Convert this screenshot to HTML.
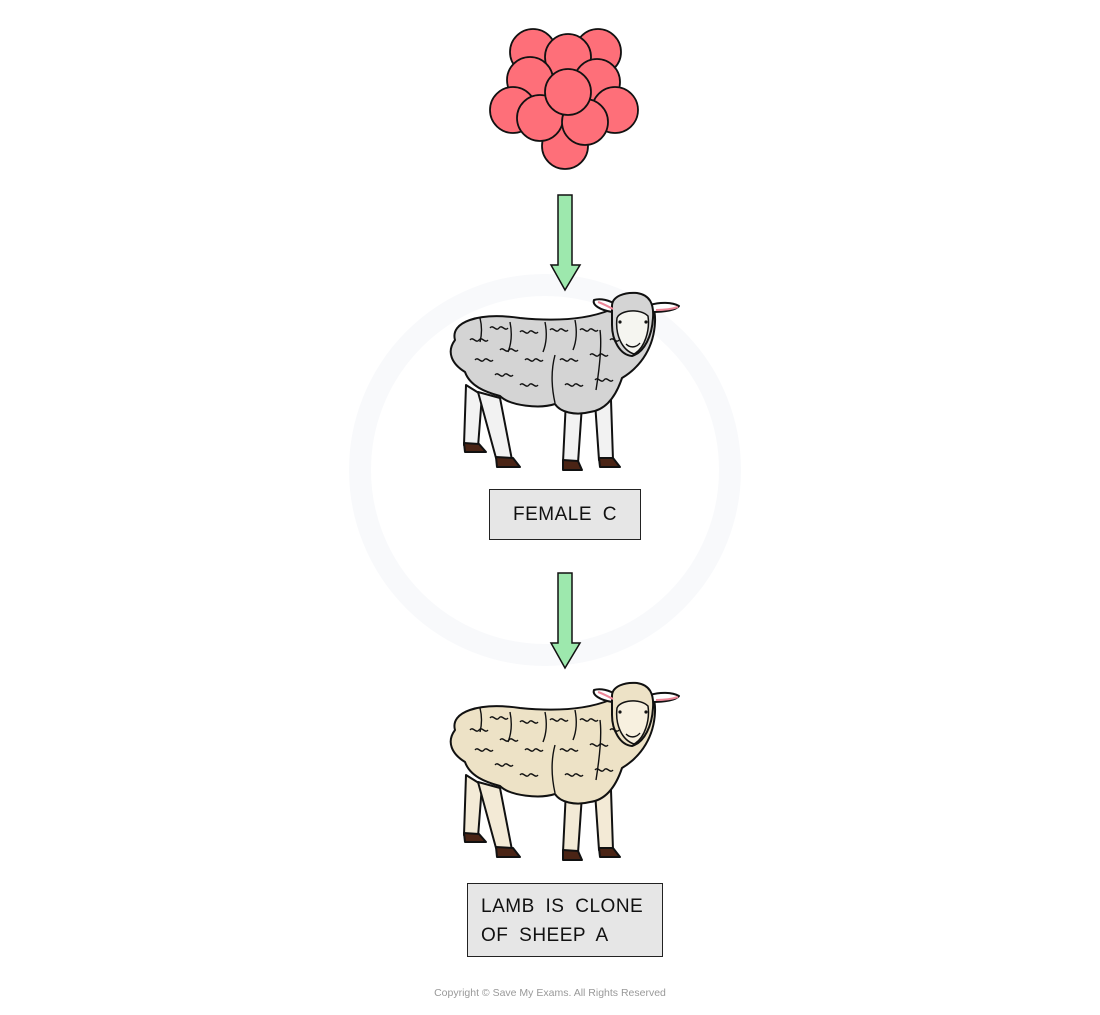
<!DOCTYPE html>
<html><head><meta charset="utf-8">
<style>
html,body{margin:0;padding:0;background:#fff;}
body{width:1100px;height:1015px;position:relative;overflow:hidden;font-family:"Liberation Sans",sans-serif;}
.box{position:absolute;background:#e6e6e6;border:1.5px solid #222;box-sizing:border-box;color:#111;font-size:19px;letter-spacing:0.5px;word-spacing:5px;}
.copy{position:absolute;left:0;width:1100px;top:987px;text-align:center;font-size:10.5px;color:#999;}
</style></head><body>
<svg width="1100" height="1015" style="position:absolute;left:0;top:0">
<circle cx="545" cy="470" r="185" fill="none" stroke="#f8f9fb" stroke-width="22"/>
<g fill="#fe6f79" stroke="#111" stroke-width="1.8">
<circle cx="533" cy="52" r="23"/><circle cx="598" cy="52" r="23"/><circle cx="568" cy="57" r="23"/>
<circle cx="530" cy="80" r="23"/><circle cx="597" cy="82" r="23"/>
<circle cx="513" cy="110" r="23"/><circle cx="615" cy="110" r="23"/>
<circle cx="565" cy="146" r="23"/>
<circle cx="540" cy="118" r="23"/><circle cx="585" cy="122" r="23"/>
<circle cx="568" cy="92" r="23"/>
</g>
<g fill="#9de8ad" stroke="#111" stroke-width="1.5">
<path d="M558,195 L572,195 L572,265 L580,265 L565,290 L551,265 L558,265 Z"/>
<path d="M558,573 L572,573 L572,643 L580,643 L565,668 L551,643 L558,643 Z"/>
</g>

<!-- SHEEP 1 -->
<g>
  <g stroke="#111" stroke-width="2" stroke-linejoin="round">
  <path d="M466,385 L464,445 L478,447 L482,395 Z" fill="#f2f2f2"/>
  <path d="M478,392 L496,458 L512,460 L500,398 Z" fill="#f2f2f2"/>
  <path d="M566,400 L563,462 L578,463 L582,405 Z" fill="#f2f2f2"/>
  <path d="M595,402 L599,460 L613,460 L611,400 Z" fill="#f2f2f2"/>
  <path d="M464,443 L465,452 L486,452 L479,444 Z" fill="#4a2415"/>
  <path d="M496,457 L497,467 L520,467 L513,458 Z" fill="#4a2415"/>
  <path d="M563,460 L563,470 L582,470 L578,461 Z" fill="#4a2415"/>
  <path d="M599,458 L600,467 L620,467 L613,458 Z" fill="#4a2415"/>
  <path fill="#d4d4d4" d="M455,340 C450,322 478,312 520,318 C560,322 590,318 610,310 L628,300 C645,294 656,302 655,322 C654,346 642,366 622,378 C616,396 606,410 590,412 C575,416 560,412 555,404 C540,409 510,406 500,396 C485,392 470,386 465,372 C452,364 446,352 455,340 Z"/>
  <path d="M612,312 C600,310 592,305 594,300 C600,298 610,300 616,305 Z" fill="#fff"/>
  <path d="M652,312 C665,312 676,310 679,306 C672,302 660,302 650,305 Z" fill="#fff"/>
  <path fill="#d4d4d4" d="M612,306 C612,296 625,292 637,293 C650,295 654,304 653,318 C652,335 645,352 632,356 C620,355 612,340 612,325 Z"/>
  <path d="M617,318 C620,310 640,308 648,316 C650,330 645,348 634,354 C622,350 615,335 617,318 Z" fill="#f5f5f0" stroke-width="1.5"/>
  </g>
  <g fill="none" stroke="#ee8899" stroke-width="2"><path d="M598,302 C604,304 609,307 613,309"/><path d="M656,310 C664,310 672,309 678,307"/></g>
  <g fill="#111"><circle cx="620" cy="322" r="1.6"/><circle cx="646" cy="322" r="1.6"/></g>
  <g fill="none" stroke="#111" stroke-width="1.4">
   <path d="M626,344 C630,348 636,348 640,343"/>
   <path d="M470,340 c3,-4 6,4 9,0 c3,-4 6,4 9,0"/><path d="M475,360 c3,-4 6,4 9,0 c3,-4 6,4 9,0"/>
   <path d="M490,328 c3,-4 6,4 9,0 c3,-4 6,4 9,0"/><path d="M500,350 c3,-4 6,4 9,0 c3,-4 6,4 9,0"/>
   <path d="M495,375 c3,-4 6,4 9,0 c3,-4 6,4 9,0"/><path d="M520,332 c3,-4 6,4 9,0 c3,-4 6,4 9,0"/>
   <path d="M525,360 c3,-4 6,4 9,0 c3,-4 6,4 9,0"/><path d="M520,385 c3,-4 6,4 9,0 c3,-4 6,4 9,0"/>
   <path d="M550,330 c3,-4 6,4 9,0 c3,-4 6,4 9,0"/><path d="M560,360 c3,-4 6,4 9,0 c3,-4 6,4 9,0"/>
   <path d="M565,385 c3,-4 6,4 9,0 c3,-4 6,4 9,0"/><path d="M580,330 c3,-4 6,4 9,0 c3,-4 6,4 9,0"/>
   <path d="M590,355 c3,-4 6,4 9,0 c3,-4 6,4 9,0"/><path d="M595,380 c3,-4 6,4 9,0 c3,-4 6,4 9,0"/>
   <path d="M610,340 c3,-4 6,4 9,0"/><path d="M480,318 c2,8 2,16 0,24"/><path d="M510,322 c2,10 2,20 -2,30"/>
   <path d="M545,322 c2,10 2,20 -2,30"/><path d="M575,320 c2,10 2,20 -2,30"/><path d="M555,355 c-4,15 -4,30 0,48"/>
   <path d="M600,330 c2,15 0,35 -4,60"/>
  </g>
</g>

<!-- SHEEP 2 -->
<g transform="translate(0,390)">
  <g stroke="#111" stroke-width="2" stroke-linejoin="round">
  <path d="M466,385 L464,445 L478,447 L482,395 Z" fill="#f3ead6"/>
  <path d="M478,392 L496,458 L512,460 L500,398 Z" fill="#f3ead6"/>
  <path d="M566,400 L563,462 L578,463 L582,405 Z" fill="#f3ead6"/>
  <path d="M595,402 L599,460 L613,460 L611,400 Z" fill="#f3ead6"/>
  <path d="M464,443 L465,452 L486,452 L479,444 Z" fill="#4a2415"/>
  <path d="M496,457 L497,467 L520,467 L513,458 Z" fill="#4a2415"/>
  <path d="M563,460 L563,470 L582,470 L578,461 Z" fill="#4a2415"/>
  <path d="M599,458 L600,467 L620,467 L613,458 Z" fill="#4a2415"/>
  <path fill="#ede2c6" d="M455,340 C450,322 478,312 520,318 C560,322 590,318 610,310 L628,300 C645,294 656,302 655,322 C654,346 642,366 622,378 C616,396 606,410 590,412 C575,416 560,412 555,404 C540,409 510,406 500,396 C485,392 470,386 465,372 C452,364 446,352 455,340 Z"/>
  <path d="M612,312 C600,310 592,305 594,300 C600,298 610,300 616,305 Z" fill="#fff"/>
  <path d="M652,312 C665,312 676,310 679,306 C672,302 660,302 650,305 Z" fill="#fff"/>
  <path fill="#ede2c6" d="M612,306 C612,296 625,292 637,293 C650,295 654,304 653,318 C652,335 645,352 632,356 C620,355 612,340 612,325 Z"/>
  <path d="M617,318 C620,310 640,308 648,316 C650,330 645,348 634,354 C622,350 615,335 617,318 Z" fill="#f7f0df" stroke-width="1.5"/>
  </g>
  <g fill="none" stroke="#ee8899" stroke-width="2"><path d="M598,302 C604,304 609,307 613,309"/><path d="M656,310 C664,310 672,309 678,307"/></g>
  <g fill="#111"><circle cx="620" cy="322" r="1.6"/><circle cx="646" cy="322" r="1.6"/></g>
  <g fill="none" stroke="#111" stroke-width="1.4">
   <path d="M626,344 C630,348 636,348 640,343"/>
   <path d="M470,340 c3,-4 6,4 9,0 c3,-4 6,4 9,0"/><path d="M475,360 c3,-4 6,4 9,0 c3,-4 6,4 9,0"/>
   <path d="M490,328 c3,-4 6,4 9,0 c3,-4 6,4 9,0"/><path d="M500,350 c3,-4 6,4 9,0 c3,-4 6,4 9,0"/>
   <path d="M495,375 c3,-4 6,4 9,0 c3,-4 6,4 9,0"/><path d="M520,332 c3,-4 6,4 9,0 c3,-4 6,4 9,0"/>
   <path d="M525,360 c3,-4 6,4 9,0 c3,-4 6,4 9,0"/><path d="M520,385 c3,-4 6,4 9,0 c3,-4 6,4 9,0"/>
   <path d="M550,330 c3,-4 6,4 9,0 c3,-4 6,4 9,0"/><path d="M560,360 c3,-4 6,4 9,0 c3,-4 6,4 9,0"/>
   <path d="M565,385 c3,-4 6,4 9,0 c3,-4 6,4 9,0"/><path d="M580,330 c3,-4 6,4 9,0 c3,-4 6,4 9,0"/>
   <path d="M590,355 c3,-4 6,4 9,0 c3,-4 6,4 9,0"/><path d="M595,380 c3,-4 6,4 9,0 c3,-4 6,4 9,0"/>
   <path d="M610,340 c3,-4 6,4 9,0"/><path d="M480,318 c2,8 2,16 0,24"/><path d="M510,322 c2,10 2,20 -2,30"/>
   <path d="M545,322 c2,10 2,20 -2,30"/><path d="M575,320 c2,10 2,20 -2,30"/><path d="M555,355 c-4,15 -4,30 0,48"/>
   <path d="M600,330 c2,15 0,35 -4,60"/>
  </g>
</g>
</svg>
<div class="box" style="left:489px;top:489px;width:152px;height:51px;line-height:49px;text-align:center;">FEMALE C</div>
<div class="box" style="left:467px;top:883px;width:196px;height:74px;padding:8px 0 0 13px;line-height:29px;">LAMB IS CLONE<br>OF SHEEP A</div>
<div class="copy">Copyright © Save My Exams. All Rights Reserved</div>
</body></html>
